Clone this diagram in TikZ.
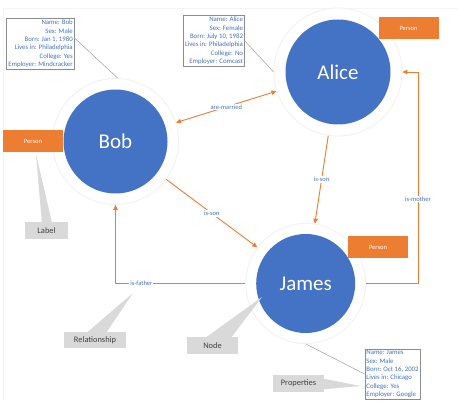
\documentclass[tikz,border=0pt]{standalone}
\usepackage{fontspec}
\setmainfont{Carlito}
\usetikzlibrary{positioning, arrows.meta}

\definecolor{nodeblue}{HTML}{4472C4}
\definecolor{relorange}{HTML}{ED7D31}
\definecolor{calloutgray}{HTML}{D9D9D9}
\definecolor{callouttext}{HTML}{404040}
\definecolor{propborder}{HTML}{8C8C8C}
\definecolor{ringgray}{HTML}{F3F0ED}

\begin{document}
\begin{tikzpicture}[x=1pt, y=-1pt,
        ring/.style={circle, draw=ringgray, line width=0.8pt, fill=white, inner sep=0pt},
        core/.style={circle, fill=nodeblue, text=white, inner sep=0pt, font=\fontsize{21}{24}\selectfont},
        tag/.style={fill=relorange, text=white, minimum width=60pt, minimum height=22pt, inner sep=0pt, font=\fontsize{6.5}{7}\selectfont},
        props/.style={draw=propborder, line width=0.7pt, fill=white, text=nodeblue, inner sep=1.5pt, font=\fontsize{6.8}{8.33}\selectfont},
        rel/.style={draw=relorange, line width=0.9pt, -{Triangle[length=5pt,width=4.5pt]}},
        rellabel/.style={fill=white, text=nodeblue, inner sep=1pt, font=\fontsize{6.5}{7}\selectfont},
        leader/.style={draw=gray!75, line width=0.5pt},
        callout/.style={fill=calloutgray, text=callouttext, minimum height=17pt, inner sep=0pt, font=\fontsize{8.4}{10}\selectfont}
    ]
    % Canvas and faint frame
    \path[fill=white, use as bounding box] (0,0) rectangle (458,406);
    \draw[gray!8] (3,400) -- (3,8) -- (458,8);

    % Nodes of the graph
    \node[ring, minimum size=126pt] (bob) at (115.5,141.5) {};
    \node[core, minimum size=104pt] (bobcore) at (bob) {Bob};
    \node[ring, minimum size=128pt] (alice) at (338,72) {};
    \node[core, minimum size=105pt] (alicecore) at (alice) {Alice};
    \node[ring, minimum size=120pt] (james) at (305.7,283.5) {};
    \node[core, minimum size=99pt] (jamescore) at (james) {James};

    % Relationships
    \draw[rel, {Triangle[length=5pt,width=4.5pt]}-{Triangle[length=5pt,width=4.5pt]}] (alice) -- (bob)
        node[rellabel, midway] {are-married};
    \draw[rel] (bob) -- (james) node[rellabel, midway] {is-son};
    \draw[rel] (alice) -- (james) node[rellabel, midway] {is-son};
    \coordinate (mothercorner) at (418,72);
    \draw[rel] (james.east) -| (mothercorner) node[rellabel, pos=0.7] {is-mother} -- (alice.east);
    \draw[rel] (james.west) -| (bob.south) node[rellabel, pos=0.4] {is-father};

    % Properties
    \node[props, align=right] (bobprops) at (40.5,44) {Name: Bob\\Sex: Male\\Born: Jan 1, 1980\\Lives in: Philadelphia\\College: Yes\\Employer: Mindcracker};
    \node[props, align=right] (aliceprops) at (214,41) {Name: Alice\\Sex: Female\\Born: July 10, 1982\\Lives in: Philadelphia\\College: No\\Employer: Comcast};
    \node[props, align=left] (jamesprops) at (392.5,374) {Name: James\\Sex: Male\\Born: Oct 16, 2002\\Lives in: Chicago\\College: Yes\\Employer: Google};
    \draw[leader] (bobprops.10) -- (bob.88);
    \draw[leader] (aliceprops.east) -- (alice.west);
    \draw[leader] (jamesprops.west) -- (james.south);

    % Labels
    \node[tag] (bobtag) at (33,141.5) {Person};
    \node[tag] (alicetag) at (408.5,28) {Person};
    \node[tag] (jamestag) at (378,247) {Person};

    % Callouts
    \node[callout, minimum width=43pt] (labelcall) at (46.5,230.5) {Label};
    \node[callout, minimum width=62pt, minimum height=16pt] (relcall) at (95,340) {Relationship};
    \node[callout, minimum width=51pt] (nodecall) at (212.5,345.5) {Node};
    \node[callout, minimum width=51pt] (propcall) at (298.5,383.5) {Properties};
    \coordinate (labeltip) at (36,154);
    \coordinate (reltip) at (133,293);
    \coordinate (nodetip) at (262,297);
    \coordinate (proptip) at (361,386);
    \fill[calloutgray] (labeltip) -- ([xshift=17pt]labelcall.north west) -- ([xshift=27pt]labelcall.north west) -- cycle;
    \fill[calloutgray] (reltip) -- ([xshift=24pt]relcall.north west) -- ([xshift=43pt]relcall.north west) -- cycle;
    \fill[calloutgray] (nodetip) -- ([xshift=20pt]nodecall.north west) -- ([xshift=45pt]nodecall.north west) -- cycle;
    \fill[calloutgray] (proptip) -- ([yshift=-4pt]propcall.north east) -- ([yshift=3pt]propcall.south east) -- cycle;
\end{tikzpicture}
\end{document}
